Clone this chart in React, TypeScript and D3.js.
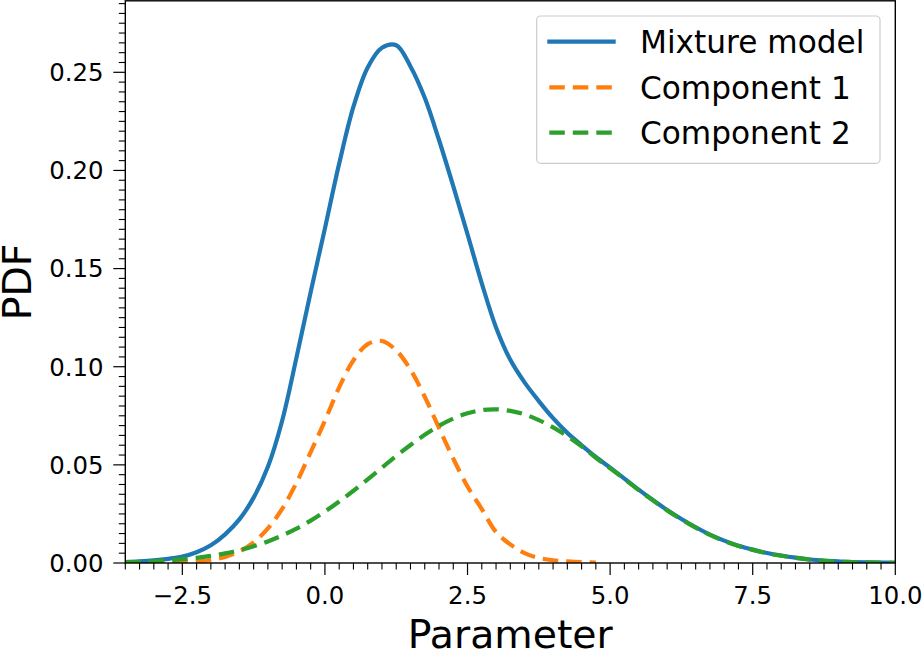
import React from "react";
import * as d3 from "d3";

// x grid shared by the series (step 0.25)
const xValues: number[] = d3.range(-3.5, 10.0001, 0.25).map((v) => +v.toFixed(2));

// Mixture model PDF
const mixture: number[] = [
  0.0005, 0.0008, 0.0013, 0.0021, 0.0033, 0.0055, 0.009, 0.0146, 0.0222, 0.0333,
  0.049, 0.0725, 0.1045, 0.138, 0.1705, 0.2035, 0.2325, 0.2525, 0.2625, 0.2638,
  0.253, 0.237, 0.2155, 0.192, 0.1675, 0.1425, 0.12, 0.1035, 0.092, 0.0825,
  0.0738, 0.0663, 0.06, 0.054, 0.0486, 0.043, 0.0374, 0.0321, 0.027, 0.0224,
  0.0182, 0.0145, 0.0114, 0.0088, 0.0068, 0.0051, 0.0038, 0.0027, 0.0018, 0.0012,
  0.0008, 0.0005, 0.0003, 0.0002, 0.0001,
];

// Component 1 PDF (drawn from -3.5 to 4.75)
const component1: number[] = [
  0.0, 0.00002, 0.00005, 0.00013, 0.00032, 0.00072, 0.00155, 0.0031, 0.0059, 0.0105,
  0.0176, 0.0276, 0.0408, 0.0565, 0.0725, 0.0895, 0.1033, 0.1115, 0.1131, 0.1083,
  0.0985, 0.0847, 0.0688, 0.0532, 0.039, 0.0275, 0.0158, 0.0095, 0.005, 0.0026,
  0.0014, 0.0008, 0.0004, 0.0002,
];

// Component 2 PDF
const component2: number[] = [
  0.0004, 0.0006, 0.0009, 0.0013, 0.0019, 0.0026, 0.0036, 0.0049, 0.0065, 0.0085,
  0.011, 0.014, 0.0175, 0.0216, 0.0262, 0.0313, 0.0368, 0.0426, 0.0486, 0.0545,
  0.0601, 0.0653, 0.0699, 0.0736, 0.0763, 0.0779, 0.0783, 0.0775, 0.0757, 0.0728,
  0.0691, 0.0646, 0.0594, 0.0536, 0.0482, 0.0428, 0.0372, 0.0319, 0.0268, 0.0222,
  0.018, 0.0143, 0.0112, 0.0087, 0.0067, 0.005, 0.0037, 0.0026, 0.0017, 0.0011,
  0.0007, 0.0005, 0.0003, 0.0002, 0.0001,
];

const xTicks: number[] = [-2.5, 0.0, 2.5, 5.0, 7.5, 10.0];
const yTicks: number[] = [0.0, 0.05, 0.1, 0.15, 0.2, 0.25];
const legendLabels: string[] = ["Mixture model", "Component 1", "Component 2"];

const W = 923;
const H = 650;
const L = 125.3;
const R = 895.3;
const T = 0.8;
const B = 563;
const FONT = "'DejaVu Sans', sans-serif";
const COLORS = ["#1f77b4", "#ff7f0e", "#2ca02c"];
const LW = 4.2;
const DASH = "15.5 8";

export default function App() {
  const x = d3.scaleLinear().domain([-3.5, 10]).range([L, R]);
  const yPerUnit = (B - 72.3) / 0.25;
  const yMax = (B - T) / yPerUnit;
  const y = d3.scaleLinear().domain([0, yMax]).range([B, T]);

  const line = d3
    .line<[number, number]>()
    .x((d) => x(d[0]))
    .y((d) => y(d[1]))
    .curve(d3.curveCatmullRom.alpha(0.5));

  const mixPts: [number, number][] = mixture.map((v, i) => [xValues[i], v]);
  const c1Pts: [number, number][] = component1.map((v, i) => [xValues[i], v]);
  const c2Pts: [number, number][] = component2.map((v, i) => [xValues[i], v]);

  const xMinor = d3.range(-3.5, 10.0001, 0.25).filter(
    (v) => !xTicks.some((t) => Math.abs(t - v) < 1e-6)
  );
  const yMinor = d3.range(0, yMax, 0.005).filter(
    (v) => !yTicks.some((t) => Math.abs(t - v) < 1e-6)
  );

  const fmtY = (v: number) => v.toFixed(2);
  const fmtX = (v: number) => (v < 0 ? "\u2212" + Math.abs(v).toFixed(1) : v.toFixed(1));

  const legendY = [41.7, 87.3, 132.7];

  return (
    <svg
      width={W}
      height={H}
      style={{ position: "absolute", left: 0, top: 0, background: "#fff" }}
      fontFamily={FONT}
    >
      <defs>
        <clipPath id="plotclip">
          <rect x={L} y={T} width={R - L} height={B - T} />
        </clipPath>
      </defs>
      <rect x={0} y={0} width={W} height={H} fill="#fff" />

      <g clipPath="url(#plotclip)">
        <path d={line(mixPts) || ""} fill="none" stroke={COLORS[0]} strokeWidth={LW} strokeLinejoin="round" />
        <path d={line(c1Pts) || ""} fill="none" stroke={COLORS[1]} strokeWidth={LW} strokeDasharray={DASH} />
        <path d={line(c2Pts) || ""} fill="none" stroke={COLORS[2]} strokeWidth={LW} strokeDasharray={DASH} />
      </g>

      {/* minor ticks */}
      {xMinor.map((v, i) => (
        <line key={"xm" + i} x1={x(v)} x2={x(v)} y1={B} y2={B + 6.5} stroke="#000" strokeWidth={1.1} />
      ))}
      {yMinor.map((v, i) => (
        <line key={"ym" + i} x1={L - 6.5} x2={L} y1={y(v)} y2={y(v)} stroke="#000" strokeWidth={1.1} />
      ))}
      {/* major ticks */}
      {xTicks.map((v, i) => (
        <g key={"xt" + i}>
          <line x1={x(v)} x2={x(v)} y1={B} y2={B + 12} stroke="#000" strokeWidth={1.2} />
          <text x={x(v)} y={604.3} fontSize={24.4} textAnchor="middle" fill="#000">
            {fmtX(v)}
          </text>
        </g>
      ))}
      {yTicks.map((v, i) => (
        <g key={"yt" + i}>
          <line x1={L - 12} x2={L} y1={y(v)} y2={y(v)} stroke="#000" strokeWidth={1.2} />
          <text x={103.5} y={y(v) + 8.9} fontSize={24.4} textAnchor="end" fill="#000">
            {fmtY(v)}
          </text>
        </g>
      ))}

      {/* frame */}
      <rect x={L} y={T} width={R - L} height={B - T} fill="none" stroke="#000" strokeWidth={1.4} />

      {/* axis labels */}
      <text x={(L + R) / 2} y={647.5} fontSize={39.4} textAnchor="middle" fill="#000">
        Parameter
      </text>
      <text
        transform={`translate(30.5, ${(T + B) / 2}) rotate(-90)`}
        fontSize={39.4}
        textAnchor="middle"
        fill="#000"
      >
        PDF
      </text>

      {/* legend */}
      <rect x={536.7} y={16} width={343.3} height={147.3} rx={4} ry={4} fill="#fff" fillOpacity={0.8} stroke="#cccccc" strokeWidth={1.2} />
      {legendLabels.map((lab, i) => (
        <g key={"lg" + i}>
          <line
            x1={i === 0 ? 547.3 : 549.3}
            x2={615.7}
            y1={legendY[i]}
            y2={legendY[i]}
            stroke={COLORS[i]}
            strokeWidth={LW}
            strokeDasharray={i === 0 ? undefined : DASH}
          />
          <text x={640} y={legendY[i] + 11.5} fontSize={31.2} fill="#000">
            {lab}
          </text>
        </g>
      ))}
    </svg>
  );
}
